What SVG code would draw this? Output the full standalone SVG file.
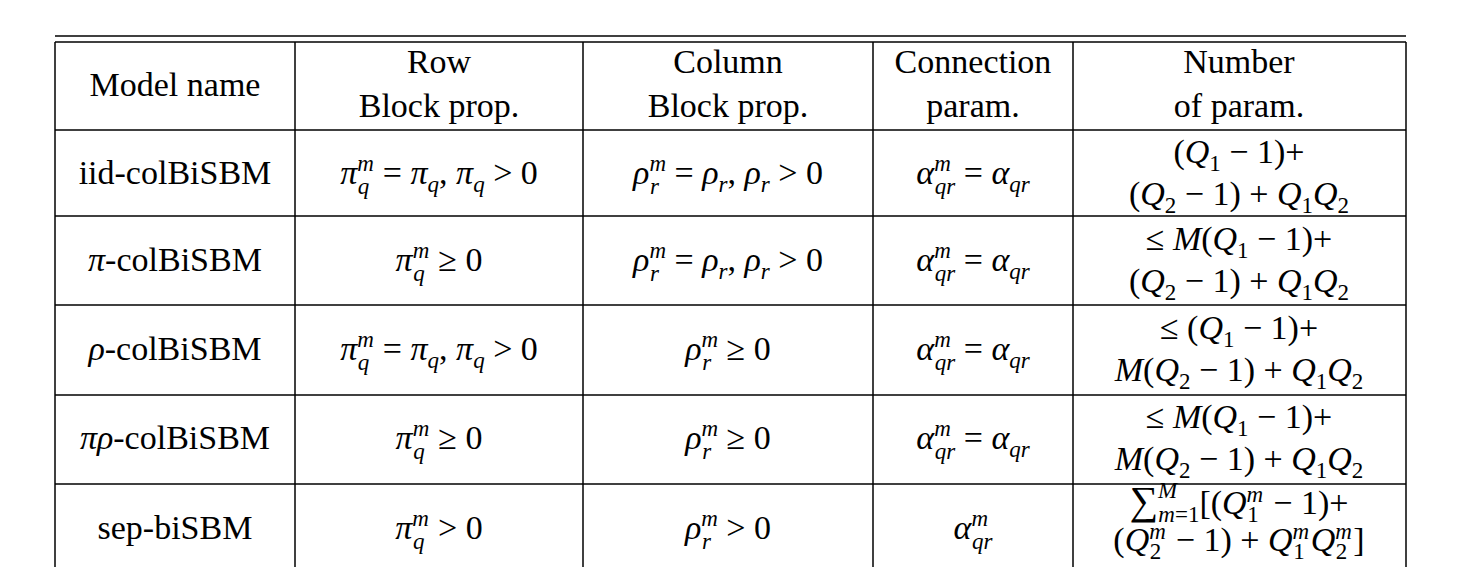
<svg xmlns="http://www.w3.org/2000/svg" width="1459" height="567" viewBox="0 0 1459 567" font-family="'Liberation Serif', 'DejaVu Serif', serif">
<style>
text{font-family:'Liberation Serif','Times New Roman','DejaVu Serif',serif;font-size:34px;fill:#000;text-anchor:middle}
.i{font-style:italic}
.s{font-size:23px}
line{stroke:#000;stroke-width:1.5}
</style>
<rect width="1459" height="567" fill="#fff"/>
<g id="grid">
<line x1="55" y1="36" x2="1406" y2="36"/>
<line x1="55" y1="42" x2="1406" y2="42"/>
<line x1="55" y1="130" x2="1406" y2="130"/>
<line x1="55" y1="216" x2="1406" y2="216"/>
<line x1="55" y1="305" x2="1406" y2="305"/>
<line x1="55" y1="395" x2="1406" y2="395"/>
<line x1="55" y1="484" x2="1406" y2="484"/>
<line x1="55" y1="42" x2="55" y2="567"/>
<line x1="295" y1="42" x2="295" y2="567"/>
<line x1="583" y1="42" x2="583" y2="567"/>
<line x1="873" y1="42" x2="873" y2="567"/>
<line x1="1073" y1="42" x2="1073" y2="567"/>
<line x1="1406" y1="42" x2="1406" y2="567"/>
</g>
<g id="header">
<text x="175" y="96">Model name</text>
<text x="439" y="73">Row</text><text x="439" y="117">Block prop.</text>
<text x="728" y="73">Column</text><text x="728" y="117">Block prop.</text>
<text x="973" y="73">Connection</text><text x="973" y="117">param.</text>
<text x="1239" y="73">Number</text><text x="1239" y="117">of param.</text>
</g>
<g id="names">
<text x="175" y="184">iid-colBiSBM</text>
<text x="175" y="271"><tspan class="i">π</tspan>-colBiSBM</text>
<text x="175" y="360"><tspan class="i">ρ</tspan>-colBiSBM</text>
<text x="175" y="449"><tspan class="i">πρ</tspan>-colBiSBM</text>
<text x="175" y="539">sep-biSBM</text>
</g>
<g id="rowprop">
<text x="439" y="184"><tspan class="i">π</tspan><tspan class="i s" dy="-13">m</tspan><tspan class="i s" dx="-16" dy="23">q</tspan><tspan dx="5" dy="-10"> = </tspan><tspan class="i">π</tspan><tspan class="i s" dy="8">q</tspan><tspan dy="-8">,   </tspan><tspan class="i">π</tspan><tspan class="i s" dy="8">q</tspan><tspan dy="-8"> &gt; 0</tspan></text>
<text x="439" y="271"><tspan class="i">π</tspan><tspan class="i s" dy="-13">m</tspan><tspan class="i s" dx="-16" dy="23">q</tspan><tspan dx="5" dy="-10"> ≥ 0</tspan></text>
<text x="439" y="360"><tspan class="i">π</tspan><tspan class="i s" dy="-13">m</tspan><tspan class="i s" dx="-16" dy="23">q</tspan><tspan dx="5" dy="-10"> = </tspan><tspan class="i">π</tspan><tspan class="i s" dy="8">q</tspan><tspan dy="-8">,   </tspan><tspan class="i">π</tspan><tspan class="i s" dy="8">q</tspan><tspan dy="-8"> &gt; 0</tspan></text>
<text x="439" y="449"><tspan class="i">π</tspan><tspan class="i s" dy="-13">m</tspan><tspan class="i s" dx="-16" dy="23">q</tspan><tspan dx="5" dy="-10"> ≥ 0</tspan></text>
<text x="439" y="539"><tspan class="i">π</tspan><tspan class="i s" dy="-13">m</tspan><tspan class="i s" dx="-16" dy="23">q</tspan><tspan dx="5" dy="-10"> &gt; 0</tspan></text>
</g>
<g id="colprop">
<text x="728" y="184"><tspan class="i">ρ</tspan><tspan class="i s" dy="-13">m</tspan><tspan class="i s" dx="-16" dy="23">r</tspan><tspan dx="7" dy="-10"> = </tspan><tspan class="i">ρ</tspan><tspan class="i s" dy="8">r</tspan><tspan dy="-8">,   </tspan><tspan class="i">ρ</tspan><tspan class="i s" dy="8">r</tspan><tspan dy="-8"> &gt; 0</tspan></text>
<text x="728" y="271"><tspan class="i">ρ</tspan><tspan class="i s" dy="-13">m</tspan><tspan class="i s" dx="-16" dy="23">r</tspan><tspan dx="7" dy="-10"> = </tspan><tspan class="i">ρ</tspan><tspan class="i s" dy="8">r</tspan><tspan dy="-8">,   </tspan><tspan class="i">ρ</tspan><tspan class="i s" dy="8">r</tspan><tspan dy="-8"> &gt; 0</tspan></text>
<text x="728" y="360"><tspan class="i">ρ</tspan><tspan class="i s" dy="-13">m</tspan><tspan class="i s" dx="-16" dy="23">r</tspan><tspan dx="7" dy="-10"> ≥ 0</tspan></text>
<text x="728" y="449"><tspan class="i">ρ</tspan><tspan class="i s" dy="-13">m</tspan><tspan class="i s" dx="-16" dy="23">r</tspan><tspan dx="7" dy="-10"> ≥ 0</tspan></text>
<text x="728" y="539"><tspan class="i">ρ</tspan><tspan class="i s" dy="-13">m</tspan><tspan class="i s" dx="-16" dy="23">r</tspan><tspan dx="7" dy="-10"> &gt; 0</tspan></text>
</g>
<g id="conn">
<text x="973" y="184"><tspan class="i">α</tspan><tspan class="i s" dy="-13">m</tspan><tspan class="i s" dx="-16" dy="23">qr</tspan><tspan dy="-10"> = </tspan><tspan class="i">α</tspan><tspan class="i s" dy="8">qr</tspan></text>
<text x="973" y="271"><tspan class="i">α</tspan><tspan class="i s" dy="-13">m</tspan><tspan class="i s" dx="-16" dy="23">qr</tspan><tspan dy="-10"> = </tspan><tspan class="i">α</tspan><tspan class="i s" dy="8">qr</tspan></text>
<text x="973" y="360"><tspan class="i">α</tspan><tspan class="i s" dy="-13">m</tspan><tspan class="i s" dx="-16" dy="23">qr</tspan><tspan dy="-10"> = </tspan><tspan class="i">α</tspan><tspan class="i s" dy="8">qr</tspan></text>
<text x="973" y="449"><tspan class="i">α</tspan><tspan class="i s" dy="-13">m</tspan><tspan class="i s" dx="-16" dy="23">qr</tspan><tspan dy="-10"> = </tspan><tspan class="i">α</tspan><tspan class="i s" dy="8">qr</tspan></text>
<text x="973" y="539"><tspan class="i">α</tspan><tspan class="i s" dy="-13">m</tspan><tspan class="i s" dx="-16" dy="23">qr</tspan></text>
</g>
<g id="nparam">
<text x="1239" y="163">(<tspan class="i">Q</tspan><tspan class="s" dy="8">1</tspan><tspan dy="-8"> − 1)+</tspan></text>
<text x="1239" y="205">(<tspan class="i">Q</tspan><tspan class="s" dy="8">2</tspan><tspan dy="-8"> − 1) + </tspan><tspan class="i">Q</tspan><tspan class="s" dy="8">1</tspan><tspan class="i" dy="-8">Q</tspan><tspan class="s" dy="8">2</tspan></text>
<text x="1239" y="250">≤ <tspan class="i">M</tspan>(<tspan class="i">Q</tspan><tspan class="s" dy="8">1</tspan><tspan dy="-8"> − 1)+</tspan></text>
<text x="1239" y="292">(<tspan class="i">Q</tspan><tspan class="s" dy="8">2</tspan><tspan dy="-8"> − 1) + </tspan><tspan class="i">Q</tspan><tspan class="s" dy="8">1</tspan><tspan class="i" dy="-8">Q</tspan><tspan class="s" dy="8">2</tspan></text>
<text x="1239" y="339">≤ (<tspan class="i">Q</tspan><tspan class="s" dy="8">1</tspan><tspan dy="-8"> − 1)+</tspan></text>
<text x="1239" y="381"><tspan class="i">M</tspan>(<tspan class="i">Q</tspan><tspan class="s" dy="8">2</tspan><tspan dy="-8"> − 1) + </tspan><tspan class="i">Q</tspan><tspan class="s" dy="8">1</tspan><tspan class="i" dy="-8">Q</tspan><tspan class="s" dy="8">2</tspan></text>
<text x="1239" y="428">≤ <tspan class="i">M</tspan>(<tspan class="i">Q</tspan><tspan class="s" dy="8">1</tspan><tspan dy="-8"> − 1)+</tspan></text>
<text x="1239" y="470"><tspan class="i">M</tspan>(<tspan class="i">Q</tspan><tspan class="s" dy="8">2</tspan><tspan dy="-8"> − 1) + </tspan><tspan class="i">Q</tspan><tspan class="s" dy="8">1</tspan><tspan class="i" dy="-8">Q</tspan><tspan class="s" dy="8">2</tspan></text>
<text x="1239" y="514"><tspan font-size="40">∑</tspan><tspan class="i s" dy="-16">M</tspan><tspan class="s" dx="-19" dy="24"><tspan class="i">m</tspan>=1</tspan><tspan dy="-8">[(</tspan><tspan class="i">Q</tspan><tspan class="i s" dy="-12">m</tspan><tspan class="s" dx="-16" dy="20">1</tspan><tspan dx="6" dy="-8"> − 1)+</tspan></text>
<text x="1239" y="551">(<tspan class="i">Q</tspan><tspan class="i s" dy="-12">m</tspan><tspan class="s" dx="-16" dy="20">2</tspan><tspan dx="6" dy="-8"> − 1) + </tspan><tspan class="i">Q</tspan><tspan class="i s" dy="-12">m</tspan><tspan class="s" dx="-16" dy="20">1</tspan><tspan class="i" dx="6" dy="-8">Q</tspan><tspan class="i s" dy="-12">m</tspan><tspan class="s" dx="-16" dy="20">2</tspan><tspan dx="6" dy="-8">]</tspan></text>
</g>
</svg>
